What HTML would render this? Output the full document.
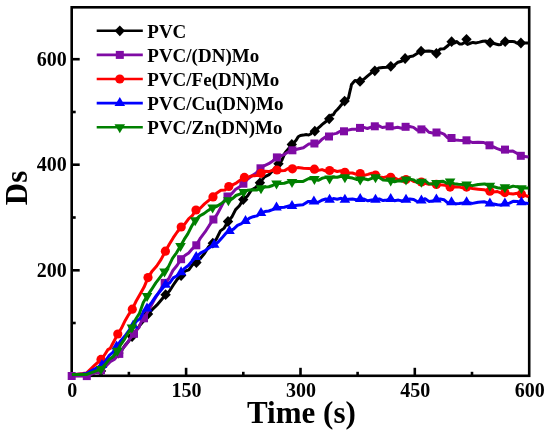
<!DOCTYPE html>
<html><head><meta charset="utf-8"><style>
html,body{margin:0;padding:0;background:#fff;}
svg{display:block;will-change:transform;}
text{font-family:"Liberation Serif",serif;font-weight:bold;fill:#000;}
</style></head><body>
<svg width="550" height="438" viewBox="0 0 550 438">
<rect x="71.7" y="7.3" width="457.5" height="368.5" fill="none" stroke="#000" stroke-width="2.6"/><line x1="128.9" y1="375.8" x2="128.9" y2="371.8" stroke="#000" stroke-width="2.6"/><line x1="186.1" y1="375.8" x2="186.1" y2="367.8" stroke="#000" stroke-width="2.6"/><line x1="243.3" y1="375.8" x2="243.3" y2="371.8" stroke="#000" stroke-width="2.6"/><line x1="300.5" y1="375.8" x2="300.5" y2="367.8" stroke="#000" stroke-width="2.6"/><line x1="357.6" y1="375.8" x2="357.6" y2="371.8" stroke="#000" stroke-width="2.6"/><line x1="414.8" y1="375.8" x2="414.8" y2="367.8" stroke="#000" stroke-width="2.6"/><line x1="472.0" y1="375.8" x2="472.0" y2="371.8" stroke="#000" stroke-width="2.6"/><line x1="71.7" y1="323.0" x2="75.7" y2="323.0" stroke="#000" stroke-width="2.6"/><line x1="71.7" y1="270.3" x2="79.7" y2="270.3" stroke="#000" stroke-width="2.6"/><line x1="71.7" y1="217.5" x2="75.7" y2="217.5" stroke="#000" stroke-width="2.6"/><line x1="71.7" y1="164.7" x2="79.7" y2="164.7" stroke="#000" stroke-width="2.6"/><line x1="71.7" y1="112.0" x2="75.7" y2="112.0" stroke="#000" stroke-width="2.6"/><line x1="71.7" y1="59.2" x2="79.7" y2="59.2" stroke="#000" stroke-width="2.6"/>
<polyline fill="none" stroke="#000000" stroke-width="3" stroke-linejoin="round" points="71.7,375.3 75.4,375.2 79.1,375.1 82.7,375.1 86.4,375.0 90.1,374.0 93.7,373.0 97.3,372.0 101.0,371.0 105.3,366.1 109.7,361.1 114.1,356.4 118.4,353.0 121.8,350.2 125.2,345.0 128.7,341.2 132.1,336.5 136.1,331.0 140.1,324.9 144.0,320.4 148.0,314.0 152.4,309.4 156.8,305.2 161.2,300.0 165.6,294.7 169.5,291.0 173.3,285.0 177.2,279.3 181.1,275.6 184.9,271.2 188.8,269.8 192.6,264.7 196.4,262.5 200.5,258.2 204.6,253.2 208.7,246.6 212.8,243.2 216.6,238.7 220.4,230.9 224.2,228.1 228.0,221.5 231.8,217.1 235.6,209.6 239.4,205.8 243.2,199.6 247.4,196.1 251.5,190.0 255.7,187.5 259.9,182.8 264.5,176.8 269.2,174.6 273.9,169.2 278.5,163.8 281.8,160.5 285.1,152.7 288.5,148.7 291.8,144.4 293.9,142.6 296.1,140.3 298.2,136.7 300.4,135.5 301.9,135.3 303.5,135.1 305.1,134.8 306.6,134.6 308.7,135.0 310.7,134.0 312.8,131.4 314.8,131.2 316.6,129.6 318.4,127.9 320.2,126.3 322.0,124.7 323.8,123.2 325.6,121.8 327.4,120.3 329.2,118.8 331.2,115.3 333.3,114.7 335.3,111.5 337.4,109.5 339.2,107.4 341.0,105.3 342.8,103.2 344.6,101.1 345.6,100.3 346.6,99.5 347.5,98.8 348.5,98.0 349.2,94.6 350.0,91.2 350.8,87.9 351.5,84.5 352.4,83.5 353.2,82.5 354.1,81.5 355.0,80.5 356.2,80.7 357.5,81.0 358.8,81.2 360.0,81.4 363.7,79.3 367.4,76.1 371.1,73.1 374.8,70.8 378.8,68.1 382.8,67.4 386.8,67.3 390.8,66.3 394.4,65.1 398.0,62.2 401.5,61.2 405.1,58.5 409.1,56.8 413.1,56.1 417.1,53.5 421.1,51.2 424.9,51.2 428.8,51.1 432.6,51.5 436.4,53.4 440.2,49.0 444.0,48.7 447.8,45.8 451.6,41.7 454.2,43.1 456.8,41.6 459.4,43.9 462.0,44.0 464.8,42.4 467.5,44.4 470.2,43.3 473.0,42.4 476.2,42.9 479.5,42.1 482.8,41.2 486.0,41.1 487.0,41.5 488.1,41.9 489.1,42.3 490.1,42.7 491.7,43.1 493.4,43.5 495.0,43.8 496.6,44.2 498.8,44.7 500.9,44.4 503.1,41.5 505.2,41.7 507.0,41.7 508.8,41.6 510.6,41.5 512.4,41.5 514.5,41.7 516.6,43.0 518.8,43.2 520.9,43.0 522.8,43.0 524.7,43.0 526.6,43.0 528.5,43.0"/><g fill="#000000"><path d="M101.00 365.60L106.20 371.00L101.00 376.40L95.80 371.00Z"/><path d="M118.40 347.60L123.60 353.00L118.40 358.40L113.20 353.00Z"/><path d="M132.10 331.10L137.30 336.50L132.10 341.90L126.90 336.50Z"/><path d="M148.00 308.60L153.20 314.00L148.00 319.40L142.80 314.00Z"/><path d="M165.60 289.30L170.80 294.70L165.60 300.10L160.40 294.70Z"/><path d="M181.10 270.20L186.30 275.60L181.10 281.00L175.90 275.60Z"/><path d="M196.40 257.10L201.60 262.50L196.40 267.90L191.20 262.50Z"/><path d="M212.80 237.80L218.00 243.20L212.80 248.60L207.60 243.20Z"/><path d="M228.00 216.10L233.20 221.50L228.00 226.90L222.80 221.50Z"/><path d="M243.20 194.20L248.40 199.60L243.20 205.00L238.00 199.60Z"/><path d="M259.90 177.40L265.10 182.80L259.90 188.20L254.70 182.80Z"/><path d="M278.50 158.40L283.70 163.80L278.50 169.20L273.30 163.80Z"/><path d="M291.80 139.00L297.00 144.40L291.80 149.80L286.60 144.40Z"/><path d="M314.80 125.80L320.00 131.20L314.80 136.60L309.60 131.20Z"/><path d="M329.20 113.40L334.40 118.80L329.20 124.20L324.00 118.80Z"/><path d="M344.60 95.70L349.80 101.10L344.60 106.50L339.40 101.10Z"/><path d="M360.00 76.00L365.20 81.40L360.00 86.80L354.80 81.40Z"/><path d="M374.80 65.40L380.00 70.80L374.80 76.20L369.60 70.80Z"/><path d="M390.80 60.90L396.00 66.30L390.80 71.70L385.60 66.30Z"/><path d="M405.10 53.10L410.30 58.50L405.10 63.90L399.90 58.50Z"/><path d="M421.10 45.80L426.30 51.20L421.10 56.60L415.90 51.20Z"/><path d="M436.40 48.00L441.60 53.40L436.40 58.80L431.20 53.40Z"/><path d="M451.60 36.30L456.80 41.70L451.60 47.10L446.40 41.70Z"/><path d="M466.50 33.90L471.70 39.30L466.50 44.70L461.30 39.30Z"/><path d="M490.10 37.30L495.30 42.70L490.10 48.10L484.90 42.70Z"/><path d="M505.20 36.30L510.40 41.70L505.20 47.10L500.00 41.70Z"/><path d="M520.90 37.60L526.10 43.00L520.90 48.40L515.70 43.00Z"/></g><polyline fill="none" stroke="#7f0ba4" stroke-width="3" stroke-linejoin="round" points="71.7,376.0 75.5,376.0 79.2,376.1 83.0,376.1 86.8,376.1 90.3,374.7 93.9,373.2 97.5,371.8 101.0,370.3 105.6,366.4 110.2,361.6 114.7,359.1 119.3,353.9 123.0,348.2 126.7,343.9 130.3,338.3 134.0,333.8 136.5,329.7 139.0,327.6 141.5,320.9 144.0,318.3 149.2,309.3 154.3,299.7 159.5,291.3 164.7,282.9 168.8,278.6 172.9,270.5 177.0,265.5 181.1,259.2 184.9,255.5 188.7,253.0 192.5,248.6 196.3,245.3 200.6,237.8 204.9,232.2 209.1,225.7 213.4,219.5 216.9,214.7 220.4,208.2 224.0,201.3 227.5,196.5 231.5,193.9 235.4,189.5 239.4,186.9 243.4,183.7 247.7,179.0 251.9,175.7 256.2,173.1 260.5,168.3 264.6,165.6 268.7,163.7 272.8,160.9 276.9,157.4 280.8,155.9 284.6,154.3 288.5,151.7 292.4,150.3 297.9,149.0 303.4,147.8 308.9,143.9 314.4,143.5 318.0,143.2 321.7,139.6 325.4,137.1 329.0,136.5 332.8,134.1 336.5,133.4 340.2,131.2 344.0,131.3 348.0,130.1 352.0,129.3 356.0,129.2 360.0,127.9 363.7,127.4 367.4,128.5 371.1,127.2 374.8,126.3 378.5,125.7 382.2,127.5 385.9,126.9 389.6,126.3 393.6,127.9 397.6,127.3 401.6,128.2 405.6,126.8 409.6,126.5 413.5,127.4 417.4,130.3 421.4,129.4 425.2,128.6 428.9,132.3 432.7,133.0 436.5,132.5 440.2,132.7 444.0,134.1 447.8,138.0 451.5,138.0 455.2,140.0 459.0,140.3 462.8,140.4 466.5,140.3 472.2,142.4 478.0,142.2 483.8,142.5 489.5,145.3 493.4,146.8 497.2,148.7 501.1,150.0 505.0,149.6 508.9,151.2 512.9,151.1 516.8,153.2 520.8,155.8 522.7,156.1 524.6,156.4 526.6,156.7 528.5,157.0"/><g fill="#7f0ba4"><rect x="67.70" y="372.00" width="8" height="8"/><rect x="82.80" y="372.10" width="8" height="8"/><rect x="97.00" y="366.30" width="8" height="8"/><rect x="115.30" y="349.90" width="8" height="8"/><rect x="130.00" y="329.80" width="8" height="8"/><rect x="140.00" y="314.30" width="8" height="8"/><rect x="160.70" y="278.90" width="8" height="8"/><rect x="177.10" y="255.20" width="8" height="8"/><rect x="192.30" y="241.30" width="8" height="8"/><rect x="209.40" y="215.50" width="8" height="8"/><rect x="223.50" y="192.50" width="8" height="8"/><rect x="239.40" y="179.70" width="8" height="8"/><rect x="256.50" y="164.30" width="8" height="8"/><rect x="272.90" y="153.40" width="8" height="8"/><rect x="288.40" y="146.30" width="8" height="8"/><rect x="310.40" y="139.50" width="8" height="8"/><rect x="325.00" y="132.50" width="8" height="8"/><rect x="340.00" y="127.30" width="8" height="8"/><rect x="356.00" y="123.90" width="8" height="8"/><rect x="370.80" y="122.30" width="8" height="8"/><rect x="385.60" y="122.30" width="8" height="8"/><rect x="401.60" y="122.80" width="8" height="8"/><rect x="417.40" y="125.40" width="8" height="8"/><rect x="432.50" y="128.50" width="8" height="8"/><rect x="447.50" y="134.00" width="8" height="8"/><rect x="462.50" y="136.30" width="8" height="8"/><rect x="485.50" y="141.30" width="8" height="8"/><rect x="501.00" y="145.60" width="8" height="8"/><rect x="516.80" y="151.80" width="8" height="8"/></g><polyline fill="none" stroke="#ff0000" stroke-width="3" stroke-linejoin="round" points="71.8,374.9 75.5,374.4 79.1,373.9 82.8,373.5 86.4,373.0 90.1,369.6 93.7,366.2 97.3,362.8 101.0,359.4 103.3,356.8 105.6,353.2 107.9,349.6 110.2,348.4 112.1,344.8 114.0,341.2 115.9,337.6 117.8,334.0 121.4,328.3 125.1,320.7 128.7,314.6 132.3,309.2 136.2,301.0 140.2,293.9 144.1,287.1 148.0,277.6 152.3,270.9 156.7,266.0 161.1,259.4 165.4,251.2 169.3,244.3 173.3,237.7 177.2,232.0 181.2,227.0 184.9,223.8 188.6,218.8 192.3,215.6 196.0,210.0 200.2,208.2 204.5,203.9 208.8,200.3 213.0,196.9 216.9,192.9 220.9,190.2 224.9,190.1 228.8,186.5 232.7,184.8 236.6,182.8 240.5,179.9 244.4,177.4 248.6,176.9 252.7,175.8 256.9,175.6 261.0,173.3 265.0,171.2 268.9,171.6 272.9,170.2 276.9,170.0 280.8,170.8 284.6,170.6 288.5,168.3 292.4,168.8 297.9,167.6 303.4,168.2 308.9,168.5 314.4,169.2 318.2,170.4 322.0,169.6 325.8,171.0 329.6,170.5 333.4,170.3 337.2,171.5 341.1,170.8 344.9,172.3 348.7,173.1 352.5,173.0 356.4,174.4 360.2,173.6 364.0,175.4 367.9,174.4 371.7,173.3 375.5,175.1 379.3,177.0 383.1,177.6 386.9,176.7 390.7,177.3 394.5,177.8 398.4,179.8 402.2,178.2 406.0,179.5 409.9,179.3 413.7,181.4 417.5,181.9 421.4,182.0 425.1,183.2 428.9,184.2 432.6,183.8 436.4,184.4 439.8,184.8 443.2,184.9 446.7,185.5 450.1,187.1 454.2,186.7 458.4,186.9 462.5,187.9 466.6,187.1 472.4,188.5 478.2,189.2 484.1,189.8 489.9,191.2 493.6,192.0 497.4,191.5 501.1,193.2 504.9,192.6 509.0,193.4 513.1,193.9 517.3,193.2 521.4,194.0 523.2,194.7 525.0,195.3 526.7,196.0 528.5,196.7"/><g fill="#ff0000"><circle cx="101.00" cy="359.40" r="4.6"/><circle cx="117.80" cy="334.00" r="4.6"/><circle cx="132.30" cy="309.20" r="4.6"/><circle cx="148.00" cy="277.60" r="4.6"/><circle cx="165.40" cy="251.20" r="4.6"/><circle cx="181.20" cy="227.00" r="4.6"/><circle cx="196.00" cy="210.00" r="4.6"/><circle cx="213.00" cy="196.90" r="4.6"/><circle cx="228.80" cy="186.50" r="4.6"/><circle cx="244.40" cy="177.40" r="4.6"/><circle cx="261.00" cy="173.30" r="4.6"/><circle cx="276.90" cy="170.00" r="4.6"/><circle cx="292.40" cy="168.80" r="4.6"/><circle cx="314.40" cy="169.20" r="4.6"/><circle cx="329.60" cy="170.50" r="4.6"/><circle cx="344.90" cy="172.30" r="4.6"/><circle cx="360.20" cy="173.60" r="4.6"/><circle cx="375.50" cy="175.10" r="4.6"/><circle cx="390.70" cy="177.30" r="4.6"/><circle cx="406.00" cy="179.50" r="4.6"/><circle cx="421.40" cy="182.00" r="4.6"/><circle cx="436.40" cy="184.40" r="4.6"/><circle cx="450.10" cy="187.10" r="4.6"/><circle cx="466.60" cy="187.10" r="4.6"/><circle cx="489.90" cy="191.20" r="4.6"/><circle cx="504.90" cy="192.60" r="4.6"/><circle cx="521.40" cy="194.00" r="4.6"/></g><polyline fill="none" stroke="#0000ff" stroke-width="3" stroke-linejoin="round" points="71.8,375.0 75.5,374.6 79.1,374.2 82.8,373.9 86.4,373.5 90.3,371.4 94.2,369.2 98.1,367.1 102.0,365.0 105.7,360.6 109.3,355.3 112.9,352.3 116.6,346.6 120.8,340.7 124.9,336.1 129.0,330.4 133.2,325.6 136.6,321.1 140.1,318.6 143.6,311.5 147.0,308.5 151.7,302.4 156.3,295.7 160.9,290.2 165.6,284.7 169.5,283.2 173.3,277.9 177.2,275.7 181.1,272.2 184.9,268.1 188.6,265.3 192.4,260.6 196.2,256.9 200.7,252.8 205.2,250.6 209.7,247.5 214.2,244.8 218.0,242.3 221.8,238.1 225.7,233.5 229.5,231.0 233.5,229.1 237.5,225.4 241.5,223.6 245.5,221.1 249.4,218.2 253.2,216.7 257.1,215.9 261.0,212.9 264.9,211.6 268.8,211.0 272.6,209.6 276.5,207.4 280.4,207.4 284.2,207.2 288.1,206.1 292.0,206.1 297.5,205.3 302.9,204.7 308.4,201.4 313.9,201.5 317.8,202.5 321.8,200.2 325.7,199.0 329.6,199.7 333.4,198.6 337.2,199.2 341.1,198.3 344.9,199.7 348.7,199.2 352.5,199.1 356.4,199.7 360.2,199.1 364.0,199.1 367.9,200.8 371.7,200.1 375.5,199.7 379.3,199.0 383.1,200.6 386.9,199.9 390.7,199.1 394.5,200.7 398.4,200.1 402.2,201.0 406.0,199.7 409.9,199.0 413.7,199.4 417.5,201.8 421.4,200.5 425.1,198.7 428.9,201.4 432.6,201.1 436.4,199.5 440.2,199.0 443.9,199.7 447.7,202.9 451.5,202.2 455.3,203.7 459.1,203.4 462.8,202.9 466.6,202.2 472.4,203.4 478.2,202.3 484.1,201.7 489.9,203.6 493.6,204.0 497.4,204.8 501.1,205.0 504.9,203.6 509.0,203.3 513.1,201.3 517.3,201.5 521.4,202.2 523.2,202.5 525.0,202.9 526.7,203.2 528.5,203.6"/><g fill="#0000ff"><path d="M102.00 359.00L107.30 368.00L96.70 368.00Z"/><path d="M116.60 340.60L121.90 349.60L111.30 349.60Z"/><path d="M133.20 319.60L138.50 328.60L127.90 328.60Z"/><path d="M147.00 302.50L152.30 311.50L141.70 311.50Z"/><path d="M165.60 278.70L170.90 287.70L160.30 287.70Z"/><path d="M181.10 266.20L186.40 275.20L175.80 275.20Z"/><path d="M196.20 250.90L201.50 259.90L190.90 259.90Z"/><path d="M214.20 238.80L219.50 247.80L208.90 247.80Z"/><path d="M229.50 225.00L234.80 234.00L224.20 234.00Z"/><path d="M245.50 215.10L250.80 224.10L240.20 224.10Z"/><path d="M261.00 206.90L266.30 215.90L255.70 215.90Z"/><path d="M276.50 201.40L281.80 210.40L271.20 210.40Z"/><path d="M292.00 200.10L297.30 209.10L286.70 209.10Z"/><path d="M313.90 195.50L319.20 204.50L308.60 204.50Z"/><path d="M329.60 193.70L334.90 202.70L324.30 202.70Z"/><path d="M344.90 193.70L350.20 202.70L339.60 202.70Z"/><path d="M360.20 193.10L365.50 202.10L354.90 202.10Z"/><path d="M375.50 193.70L380.80 202.70L370.20 202.70Z"/><path d="M390.70 193.10L396.00 202.10L385.40 202.10Z"/><path d="M406.00 193.70L411.30 202.70L400.70 202.70Z"/><path d="M421.40 194.50L426.70 203.50L416.10 203.50Z"/><path d="M436.40 193.50L441.70 202.50L431.10 202.50Z"/><path d="M451.50 196.20L456.80 205.20L446.20 205.20Z"/><path d="M466.60 196.20L471.90 205.20L461.30 205.20Z"/><path d="M489.90 197.60L495.20 206.60L484.60 206.60Z"/><path d="M504.90 197.60L510.20 206.60L499.60 206.60Z"/><path d="M521.40 196.20L526.70 205.20L516.10 205.20Z"/></g><polyline fill="none" stroke="#008000" stroke-width="3" stroke-linejoin="round" points="71.8,374.5 75.5,374.5 79.1,374.5 82.8,374.5 86.4,374.5 90.1,373.1 93.7,371.8 97.3,370.4 101.0,369.0 105.1,364.6 109.2,359.4 113.2,356.5 117.3,350.8 121.0,344.3 124.6,339.1 128.2,332.8 131.9,327.4 135.7,319.3 139.5,313.2 143.3,302.6 147.1,296.0 151.4,289.7 155.8,282.9 160.2,277.1 164.5,271.5 168.5,266.7 172.5,258.3 176.5,252.8 180.5,246.1 184.2,239.4 187.8,233.9 191.5,226.5 195.2,220.2 199.5,216.0 203.9,213.6 208.2,210.4 212.6,207.5 216.6,206.6 220.5,204.1 224.4,201.1 228.4,200.3 232.2,198.8 236.0,195.5 239.8,194.1 243.6,192.0 247.9,190.2 252.3,189.8 256.6,190.1 261.0,188.2 264.9,187.1 268.8,186.7 272.6,185.5 276.5,183.5 280.4,183.4 284.2,183.2 288.1,182.0 292.0,182.0 297.6,181.6 303.2,181.4 308.8,178.5 314.4,179.0 318.2,180.3 322.0,178.3 325.8,177.4 329.6,178.4 333.4,177.0 337.2,177.3 341.1,176.2 344.9,177.3 348.7,177.5 352.5,178.1 356.4,179.4 360.2,179.5 364.0,178.8 367.9,179.8 371.7,178.4 375.5,177.3 379.3,177.5 383.1,180.1 386.9,180.3 390.7,180.5 394.5,181.7 398.4,180.7 402.2,181.2 406.0,179.5 409.9,179.1 413.7,179.9 417.5,182.7 421.4,181.8 425.1,180.6 428.9,183.8 432.6,184.0 436.4,183.0 439.8,181.5 443.2,181.2 446.7,183.3 450.1,181.6 454.2,183.8 458.4,184.2 462.5,184.4 466.6,184.4 472.4,185.6 478.2,184.5 484.1,183.9 489.9,185.8 493.6,186.6 497.4,187.7 501.1,188.3 504.9,187.2 509.0,187.5 513.1,186.1 517.3,186.9 521.4,188.2 523.2,188.1 525.0,188.1 526.7,188.1 528.5,188.0"/><g fill="#008000"><path d="M101.00 375.00L106.30 366.00L95.70 366.00Z"/><path d="M117.30 356.80L122.60 347.80L112.00 347.80Z"/><path d="M131.90 333.40L137.20 324.40L126.60 324.40Z"/><path d="M147.10 302.00L152.40 293.00L141.80 293.00Z"/><path d="M164.50 277.50L169.80 268.50L159.20 268.50Z"/><path d="M180.50 252.10L185.80 243.10L175.20 243.10Z"/><path d="M195.20 226.20L200.50 217.20L189.90 217.20Z"/><path d="M212.60 213.50L217.90 204.50L207.30 204.50Z"/><path d="M228.40 206.30L233.70 197.30L223.10 197.30Z"/><path d="M243.60 198.00L248.90 189.00L238.30 189.00Z"/><path d="M261.00 194.20L266.30 185.20L255.70 185.20Z"/><path d="M276.50 189.50L281.80 180.50L271.20 180.50Z"/><path d="M292.00 188.00L297.30 179.00L286.70 179.00Z"/><path d="M314.40 185.00L319.70 176.00L309.10 176.00Z"/><path d="M329.60 184.40L334.90 175.40L324.30 175.40Z"/><path d="M344.90 183.30L350.20 174.30L339.60 174.30Z"/><path d="M360.20 185.50L365.50 176.50L354.90 176.50Z"/><path d="M375.50 183.30L380.80 174.30L370.20 174.30Z"/><path d="M390.70 186.50L396.00 177.50L385.40 177.50Z"/><path d="M406.00 185.50L411.30 176.50L400.70 176.50Z"/><path d="M421.40 187.80L426.70 178.80L416.10 178.80Z"/><path d="M436.40 189.00L441.70 180.00L431.10 180.00Z"/><path d="M450.10 187.60L455.40 178.60L444.80 178.60Z"/><path d="M466.60 190.40L471.90 181.40L461.30 181.40Z"/><path d="M489.90 191.80L495.20 182.80L484.60 182.80Z"/><path d="M504.90 193.20L510.20 184.20L499.60 184.20Z"/><path d="M521.40 194.20L526.70 185.20L516.10 185.20Z"/></g>
<text x="66.8" y="276.8" text-anchor="end" font-size="20">200</text><text x="66.8" y="171.2" text-anchor="end" font-size="20">400</text><text x="66.8" y="65.7" text-anchor="end" font-size="20">600</text><text x="72.2" y="397" text-anchor="middle" font-size="20">0</text><text x="186.6" y="397" text-anchor="middle" font-size="20">150</text><text x="301.0" y="397" text-anchor="middle" font-size="20">300</text><text x="415.3" y="397" text-anchor="middle" font-size="20">450</text><text x="529.7" y="397" text-anchor="middle" font-size="20">600</text><text x="247" y="422.8" font-size="31">Time (s)</text><text transform="translate(27.2,188) rotate(-90)" text-anchor="middle" font-size="31">Ds</text>
<line x1="96.7" y1="30.8" x2="142.8" y2="30.8" stroke="#000000" stroke-width="2.6"/><g fill="#000000"><path d="M119.80 25.40L125.00 30.80L119.80 36.20L114.60 30.80Z"/></g><text x="147.3" y="37.9" font-size="19">PVC</text><line x1="96.7" y1="54.9" x2="142.8" y2="54.9" stroke="#7f0ba4" stroke-width="2.6"/><g fill="#7f0ba4"><rect x="115.80" y="50.90" width="8" height="8"/></g><text x="147.3" y="62.0" font-size="19">PVC/(DN)Mo</text><line x1="96.7" y1="79.0" x2="142.8" y2="79.0" stroke="#ff0000" stroke-width="2.6"/><g fill="#ff0000"><circle cx="119.80" cy="79.00" r="4.6"/></g><text x="147.3" y="86.1" font-size="19">PVC/Fe(DN)Mo</text><line x1="96.7" y1="103.1" x2="142.8" y2="103.1" stroke="#0000ff" stroke-width="2.6"/><g fill="#0000ff"><path d="M119.80 97.10L125.10 106.10L114.50 106.10Z"/></g><text x="147.3" y="110.2" font-size="19">PVC/Cu(DN)Mo</text><line x1="96.7" y1="127.2" x2="142.8" y2="127.2" stroke="#008000" stroke-width="2.6"/><g fill="#008000"><path d="M119.80 133.20L125.10 124.20L114.50 124.20Z"/></g><text x="147.3" y="134.3" font-size="19">PVC/Zn(DN)Mo</text>
</svg>
</body></html>
